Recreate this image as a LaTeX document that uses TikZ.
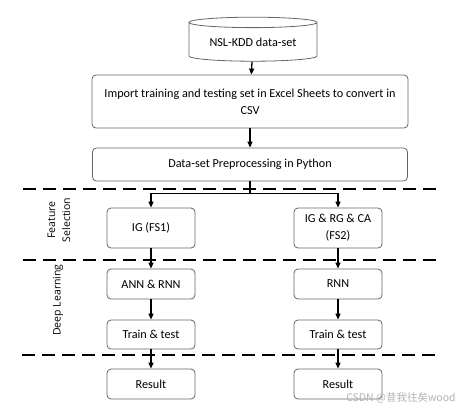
\documentclass[tikz,border=0pt]{standalone}
\usepackage{fontspec}
\setmainfont{Carlito}
\newfontfamily\cjk{Noto Sans CJK SC}
\newfontfamily\sidefont{Open Sans}
\usetikzlibrary{shapes.geometric,arrows.meta}
\begin{document}
\begin{tikzpicture}[x=1bp,y=-1bp,
  box/.style={draw=gray!80!black, rounded corners=4bp, line width=0.8bp, align=center,
    font=\fontsize{12.2bp}{17bp}\selectfont, inner sep=0pt, minimum width=88bp},
  arr/.style={-{Triangle[length=6bp,width=5bp]}, line width=1.3bp},
  sep/.style={dash pattern=on 13bp off 7bp, line width=2.5bp},
  side/.style={rotate=90, align=center, font=\sidefont\fontsize{10.5bp}{15bp}\selectfont}]
\useasboundingbox (0,0) rectangle (474,412);
% nodes
\node[cylinder, shape border rotate=90, aspect=0.12, draw=gray!80!black, line width=0.8bp,
  minimum width=128bp, minimum height=44bp, inner sep=0pt,
  font=\fontsize{12.2bp}{15bp}\selectfont] (ds) at (253,42) {NSL-KDD data-set};
\node[box, minimum width=316bp, minimum height=53bp] (imp) at (250,101.5)
  {Import training and testing set in Excel Sheets to convert in\\CSV};
\node[box, minimum width=315bp, minimum height=33bp] (pre) at (250,164.5)
  {Data-set Preprocessing in Python};
\node[box, minimum height=40bp] (fs1) at (151,228) {IG (FS1)};
\node[box, minimum height=40bp] (fs2) at (338,228) {IG \& RG \& CA\\(FS2)};
\node[box, minimum height=30bp] (ann) at (151,284) {ANN \& RNN};
\node[box, minimum height=30bp] (rnn) at (338,284) {RNN};
\node[box, minimum height=29bp] (tt1) at (151,334.5) {Train \& test};
\node[box, minimum height=29bp] (tt2) at (338,334.5) {Train \& test};
\node[box, minimum height=30bp] (res1) at (151,384) {Result};
\node[box, minimum height=30bp] (res2) at (338,384) {Result};
% side labels
\node[side] (lfs) at (59,220) {Feature\\Selection};
\node[side] (ldl) at (58,300) {Deep Learning};
% dashed separators
\draw[sep] (23,189) -- (442,189);
\draw[sep] (23,260) -- (442,260);
\draw[sep] (22,355) -- (438,355);
% connectors
\draw[arr] (ds) -- (imp);
\draw[arr] (imp) -- (pre);
\draw[line width=1.3bp] (pre.south) -- ++(0,12) coordinate (j);
\draw[arr] (j) -| (fs1);
\draw[arr] (j) -| (fs2);
\draw[arr] (fs1) -- (ann);
\draw[arr] (fs2) -- (rnn);
\draw[arr] (ann) -- (tt1);
\draw[arr] (rnn) -- (tt2);
\draw[arr] (tt1) -- (res1);
\draw[arr] (tt2) -- (res2);
% watermark
\node[text=gray!60, font=\cjk\fontsize{10.5bp}{12bp}\selectfont, inner sep=0pt] (wm) at (401,398) {CSDN @昔我往矣wood};
\end{tikzpicture}
\end{document}
